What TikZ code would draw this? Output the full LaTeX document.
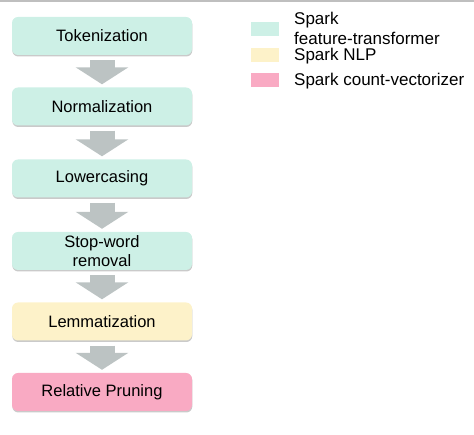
\documentclass[tikz,border=0pt]{standalone}
\usepackage{fontspec}
\setmainfont{Liberation Sans}
\usetikzlibrary{arrows.meta,shadows}
\definecolor{featcol}{HTML}{CDF0E6}
\definecolor{nlpcol}{HTML}{FDF2C9}
\definecolor{cntcol}{HTML}{F9AAC3}
\definecolor{arrcol}{HTML}{BCC3C3}
\tikzset{
	stepbox/.style={fill=#1, rounded corners=6pt, minimum width=180pt, minimum height=38pt,
		align=center, inner sep=0pt, font=\fontsize{16.5}{19.5}\selectfont,
		drop shadow={shadow xshift=0.3pt, shadow yshift=-1.5pt, opacity=0.35, fill=black!60}},
	bigarrow/.style={draw=arrcol, line width=25pt, -{Triangle[width=52pt,length=17pt]}},
	keybox/.style={fill=#1, minimum width=28pt, minimum height=14pt, inner sep=0pt},
	keytext/.style={anchor=west, inner sep=0pt, align=left, font=\fontsize{17}{19.5}\selectfont}
}
\begin{document}
\begin{tikzpicture}[x=1pt, y=1pt]
		\useasboundingbox (0,0) rectangle (474,435);
		\fill[black!25] (0,433) rectangle (474,435);
		\begin{scope}
			\foreach \n/\y/\c/\t in {tok/399/featcol/Tokenization, norm/328.5/featcol/Normalization,
				lower/256.5/featcol/Lowercasing, stop/184/featcol/{Stop-word\\removal},
				lemma/113.5/nlpcol/Lemmatization, prune/43/cntcol/Relative Pruning} {
				\node[stepbox=\c] (\n) at (102,\y) {\t};
			}
			\foreach \a/\b in {tok/norm, norm/lower, lower/stop, stop/lemma, lemma/prune} {
				\draw[bigarrow] ([yshift=-5pt]\a.south) -- ([yshift=3pt]\b.north);
			}
		\end{scope}
		
		% legend
		\node[keybox=featcol] (key1) at (265,406) {};
		\node[keybox=nlpcol] (key2) at (265,379.5) {};
		\node[keybox=cntcol] (key3) at (265,354.5) {};
		\node[keytext] (lab1) at (294,406.5) {Spark\\feature-transformer};
		\node[keytext] (lab2) at (294,379) {Spark NLP};
		\node[keytext] (lab3) at (294,354) {Spark count-vectorizer};
	\end{tikzpicture}
\end{document}
